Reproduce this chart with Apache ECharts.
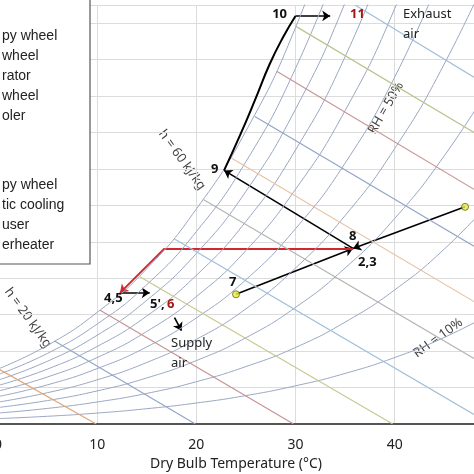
<!DOCTYPE html>
<html><head><meta charset="utf-8">
<script src="https://cdn.jsdelivr.net/npm/echarts@6/dist/echarts.min.js"></script>
<style>html,body{margin:0;padding:0;background:#fff}#main{width:474px;height:474px}</style>
</head><body><div id="main"></div>
<script>
// dry bulb temperatures used for the RH curves
const temps = [0, 5, 10, 15, 20, 25, 30, 35, 40, 45, 50];
// humidity ratio (g/kg) for RH = 10% ... 100%
const rh10 = [0.37, 0.53, 0.75, 1.05, 1.44, 1.95, 2.62, 3.47, 4.56, 5.94, 7.67];
const rh20 = [0.75, 1.07, 1.51, 2.10, 2.90, 3.94, 5.25, 6.99, 9.2, 12.0, 15.5];
const rh30 = [1.13, 1.61, 2.27, 3.16, 4.35, 5.92, 8.0, 10.7, 14.1, 18.4, 23.6];
const rh40 = [1.50, 2.15, 3.03, 4.22, 5.81, 7.90, 10.7, 14.3, 18.9, 24.7, 31.8];
const rh50 = [1.88, 2.69, 3.80, 5.29, 7.28, 9.90, 13.4, 17.9, 23.8, 31.3];
const rh60 = [2.26, 3.23, 4.56, 6.35, 8.74, 11.9, 16.1, 21.5, 28.5, 37.4];
const rh70 = [2.64, 3.77, 5.32, 7.41, 10.2, 13.9, 18.8, 25.2, 33.5];
const rh80 = [3.01, 4.31, 6.09, 8.49, 11.7, 15.96, 21.6, 28.9, 38.0];
const rh90 = [3.39, 4.85, 6.86, 9.56, 13.2, 18.0, 24.4, 32.7];
const rh100 = [3.77, 5.40, 7.66, 10.65, 14.75, 20.1, 27.2, 36.6];
const rhCurves = [rh10, rh20, rh30, rh40, rh50, rh60, rh70, rh80, rh90, rh100];

// constant enthalpy lines: [T1, W1, T2, W2]
const hLines = [
  [0, 3.8, 9.9, 0], [5.7, 5.7, 19.9, 0], [10.3, 7.8, 29.8, 0], [14.3, 10.1, 39.8, 0],
  [17.8, 12.7, 48, 0.66], [20.7, 15.4, 48, 4.5], [23.4, 18.3, 48, 8.4], [25.9, 21.1, 48, 12.2],
  [28.1, 24.2, 48, 16.1], [30.0, 27.3, 48, 20.0], [36.0, 28.75, 48, 23.8]
];
const hColors = ['#e0a77a', '#93a6c9', '#c89494', '#c9c993', '#9fbfd9', '#b5b5b5',
  '#eac2a2', '#93a6c9', '#c89494', '#bcc38c', '#9fbfd9'];

// process states
const pt10 = [30.0, 28.0], pt11 = [33.5, 28.0];
const pt9 = [22.8, 17.4], pt8 = [35.8, 12.05], ptOut = [47.1, 14.9], pt7 = [24.0, 8.9];
const redCorner = [16.8, 12.05], pt45 = [12.3, 9.0], pt5p = [15.3, 9.0];
const curve910 = [[22.8, 17.4], [24.4, 19.8], [25.9, 22.2], [27.4, 24.7], [28.8, 26.6], [30.0, 28.0]];
const supplyArrow = [[17.8, 7.3], [18.5, 6.4]];
const xTicks = [0, 10, 20, 30, 40];

const series = [];
rhCurves.forEach(w => series.push({
  type: 'line', smooth: true, symbol: 'none', silent: true,
  data: w.map((v, i) => [temps[i], v]),
  lineStyle: {color: '#9aa7c2', width: 1}
}));
hLines.forEach((l, i) => series.push({
  type: 'line', symbol: 'none', silent: true,
  data: [[l[0], l[1]], [l[2], l[3]]],
  lineStyle: {color: hColors[i], width: 1.2}
}));
series.push({type: 'line', smooth: true, symbol: 'none', data: curve910, lineStyle: {color: '#000', width: 2}});
series.push({
  type: 'lines', coordinateSystem: 'cartesian2d', symbol: ['none', 'arrow'], symbolSize: 8,
  lineStyle: {color: '#000', width: 1.6, opacity: 1},
  data: [
    {coords: [pt10, pt11]}, {coords: [pt8, pt9]}, {coords: [ptOut, pt8]}, {coords: [pt7, pt8]},
    {coords: [pt45, pt5p]}, {coords: supplyArrow}
  ]
});
series.push({
  type: 'lines', coordinateSystem: 'cartesian2d', symbol: ['none', 'none'],
  lineStyle: {color: '#d0282c', width: 2, opacity: 1},
  data: [{coords: [pt8, redCorner]}]
});
series.push({
  type: 'lines', coordinateSystem: 'cartesian2d', symbol: ['none', 'arrow'], symbolSize: 8,
  lineStyle: {color: '#d0282c', width: 2, opacity: 1},
  data: [{coords: [redCorner, pt45]}]
});
series.push({
  type: 'scatter', symbolSize: 7, data: [ptOut, pt7],
  itemStyle: {color: '#e8e84a', borderColor: '#666600', borderWidth: 1}
});

const F = 'Noto Sans';
const txt = (x, y, t, o) => ({type: 'text', x: x, y: y, z: 110, style: Object.assign({text: t, font: '13px ' + F, fill: '#222'}, o || {})});
const legendLines = ['py wheel', 'wheel', 'rator', 'wheel', 'oler', '', '', 'py wheel', 'tic cooling', 'user', 'erheater'];
const legendY = [29, 49, 69, 89, 109, 129, 149, 178, 198, 218, 238];

const chart = echarts.init(document.getElementById('main'));
chart.setOption({
  animation: false,
  grid: {left: -2, right: 0, top: 5, bottom: 50, outerBoundsMode: 'none', containLabel: false},
  xAxis: {
    type: 'value', min: 0, max: 48, interval: 10,
    name: 'Dry Bulb Temperature (°C)', nameLocation: 'middle', nameGap: 33,
    nameTextStyle: {fontFamily: F, fontSize: 14, color: '#222'},
    axisLine: {lineStyle: {color: '#555', width: 2}}, axisTick: {show: false},
    axisLabel: {fontFamily: F, fontSize: 14, color: '#222', margin: 14,
      formatter: v => xTicks.indexOf(v) >= 0 ? String(v) : ''},
    splitLine: {lineStyle: {color: '#dcdcdc'}}
  },
  yAxis: {
    type: 'value', position: 'right', min: 0, max: 28.75, interval: 2.5,
    axisLine: {show: false}, axisTick: {show: false}, axisLabel: {show: false},
    splitLine: {lineStyle: {color: '#dcdcdc'}}
  },
  series: series,
  graphic: [
    {type: 'rect', z: 100, shape: {x: -2, y: -2, width: 92, height: 266}, style: {fill: '#fff', stroke: '#555', lineWidth: 1.2}},
    ...legendLines.map((t, i) => txt(2, legendY[i], t, {fontSize: 14})),
    txt(287, 8, '10', {font: 'bold 13px ' + F, fill: '#111', textAlign: 'right'}),
    txt(350, 8, '11', {font: 'bold 13px ' + F, fill: '#a01818'}),
    txt(403, 4, 'Exhaust\nair', {lineHeight: 20}),
    {type: 'text', x: 386, y: 108, rotation: Math.PI / 3, style: {text: 'RH = 50%', font: '13px ' + F, fill: '#444', textAlign: 'center', textVerticalAlign: 'middle'}},
    {type: 'text', x: 438, y: 338, rotation: Math.PI / 5, style: {text: 'RH = 10%', font: '13px ' + F, fill: '#444', textAlign: 'center', textVerticalAlign: 'middle'}},
    {type: 'text', x: 182, y: 160, rotation: -Math.PI * 0.3, style: {text: 'h = 60 kJ/kg', font: '13px ' + F, fill: '#444', textAlign: 'center', textVerticalAlign: 'middle'}},
    {type: 'text', x: 28, y: 318, rotation: -Math.PI * 0.3, style: {text: 'h = 20 kJ/kg', font: '13px ' + F, fill: '#444', textAlign: 'center', textVerticalAlign: 'middle'}},
    txt(211, 163, '9', {font: 'bold 13px ' + F, fill: '#111'}),
    txt(349, 230, '8', {font: 'bold 13px ' + F, fill: '#111'}),
    txt(358, 256, '2,3', {font: 'bold 13px ' + F, fill: '#111'}),
    txt(229, 276, '7', {font: 'bold 13px ' + F, fill: '#111'}),
    txt(104, 292, '4,5', {font: 'bold 13px ' + F, fill: '#111'}),
    txt(150, 298, "5',", {font: 'bold 13px ' + F, fill: '#111'}),
    txt(167, 298, '6', {font: 'bold 13px ' + F, fill: '#a01818'}),
    txt(171, 333, 'Supply\nair', {lineHeight: 20})
  ]
});
</script></body></html>
